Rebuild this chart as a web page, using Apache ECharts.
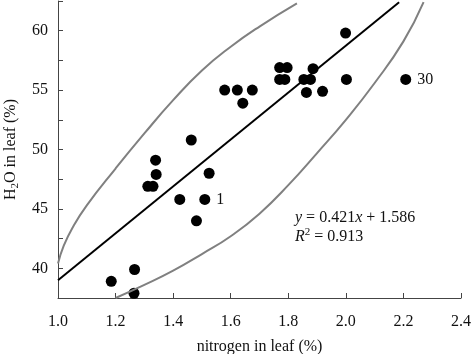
<!DOCTYPE html>
<html>
<head>
<meta charset="utf-8">
<script src="https://cdn.jsdelivr.net/npm/echarts@6/dist/echarts.min.js"></script>
<style>
html, body { margin: 0; padding: 0; background: #fff; }
#chart { width: 474px; height: 354px; }
</style>
</head>
<body>
<div id="chart"></div>
<script>
// leaf nitrogen (%) vs leaf water (%)
var nitrogen = [1.185, 1.264, 1.266, 1.312, 1.330, 1.341, 1.339, 1.423, 1.463, 1.481, 1.510, 1.525,
    1.579, 1.623, 1.642, 1.675, 1.770, 1.788, 1.770, 1.796, 1.854, 1.863, 1.877, 1.886, 1.919,
    1.999, 2.002, 2.208];
var water = [38.9, 37.9, 39.9, 46.9, 46.9, 47.9, 49.1, 45.8, 50.8, 44.0, 45.8, 48.0,
    55.0, 55.0, 53.9, 55.0, 55.9, 55.9, 56.9, 56.9, 55.9, 54.8, 55.9, 56.8, 54.9,
    59.8, 55.9, 55.9];
// point labels (index -> text)
var pointNames = { 10: '1', 27: '30' };

// fitted line end points
var fitX = [1.0, 2.185];
var fitY = [39.0, 62.4];

// upper / lower envelopes
var upperX = [1.0, 1.02, 1.05, 1.1, 1.2, 1.3, 1.4, 1.5, 1.6, 1.7, 1.83];
var upperY = [40.4, 41.9, 43.4, 45.3, 48.4, 51.35, 54.15, 56.65, 58.65, 60.35, 62.3];
var lowerX = [1.2, 1.3, 1.4, 1.5, 1.6, 1.7, 1.8, 1.9, 2.0, 2.1, 2.2, 2.27];
var lowerY = [37.5, 38.6, 39.8, 41.2, 42.7, 44.6, 47.0, 49.7, 52.5, 55.6, 59.1, 62.4];

var xTicks = { min: 1.0, max: 2.4, step: 0.2 };
var yTicks = { min: 37.5, max: 62.5, step: 2.5 };

var font = '"Liberation Serif", "Times New Roman", serif';
var chart = echarts.init(document.getElementById('chart'));

function pairs(xs, ys) {
    var out = [];
    for (var i = 0; i < xs.length; i++) out.push([xs[i], ys[i]]);
    return out;
}

var pts = [];
for (var i = 0; i < nitrogen.length; i++) {
    var item = { value: [nitrogen[i], water[i]] };
    if (pointNames[i]) {
        item.label = {
            show: true, position: 'right', distance: 6,
            formatter: pointNames[i], color: '#111', fontSize: 16, fontFamily: font
        };
    }
    pts.push(item);
}

var option = {
    animation: false,
    backgroundColor: '#fff',
    grid: { left: 58, right: 13, top: 1, bottom: 56, outerBoundsMode: 'none' },
    xAxis: {
        type: 'value',
        min: xTicks.min, max: xTicks.max, interval: xTicks.step,
        name: 'nitrogen in leaf (%)',
        nameLocation: 'middle', nameGap: 41,
        nameTextStyle: { color: '#111', fontSize: 16, fontFamily: font },
        axisLine: { lineStyle: { color: '#444', width: 1 } },
        axisTick: { inside: true, length: 5, lineStyle: { color: '#444' } },
        axisLabel: {
            margin: 16, color: '#111', fontSize: 16, fontFamily: font,
            formatter: function (v) { return v.toFixed(1); }
        },
        splitLine: { show: false }
    },
    yAxis: {
        type: 'value',
        min: yTicks.min, max: yTicks.max, interval: yTicks.step,
        name: '{a|H}{s|2}{a|O in leaf (%)}',
        nameLocation: 'middle', nameGap: 37,
        nameTextStyle: {
            color: '#111', fontSize: 16, fontFamily: font,
            rich: {
                a: { fontSize: 16, fontFamily: font, color: '#111' },
                s: { fontSize: 11, fontFamily: font, color: '#111', padding: [9, 0, 0, 0] }
            }
        },
        axisLine: { show: true, lineStyle: { color: '#444', width: 1 } },
        axisTick: { inside: true, length: 5, lineStyle: { color: '#444' } },
        axisLabel: {
            margin: 10, color: '#111', fontSize: 16, fontFamily: font,
            formatter: function (v) { return v % 5 === 0 ? String(v) : ''; }
        },
        splitLine: { show: false }
    },
    graphic: [{
        type: 'text', left: 295, top: 208,
        style: {
            text: '{i|y} = 0.421{i|x} + 1.586\n{i|R}{p|2} = 0.913',
            font: '16px ' + font, fill: '#111', lineHeight: 19,
            rich: {
                i: { fontStyle: 'italic', fontSize: 16, fontFamily: font, fill: '#111' },
                p: { fontSize: 11, fontFamily: font, fill: '#111', padding: [0, 0, 8, 0] }
            }
        }
    }],
    series: [
        {
            type: 'line', data: pairs(upperX, upperY), smooth: true,
            showSymbol: false, lineStyle: { color: '#808080', width: 2 }, silent: true
        },
        {
            type: 'line', data: pairs(lowerX, lowerY), smooth: true,
            showSymbol: false, lineStyle: { color: '#808080', width: 2 }, silent: true
        },
        {
            type: 'line', data: pairs(fitX, fitY), showSymbol: false,
            lineStyle: { color: '#000', width: 2 }, silent: true
        },
        {
            type: 'scatter', data: pts, symbolSize: 11,
            itemStyle: { color: '#000', opacity: 1 }
        }
    ]
};
chart.setOption(option);
</script>
</body>
</html>
